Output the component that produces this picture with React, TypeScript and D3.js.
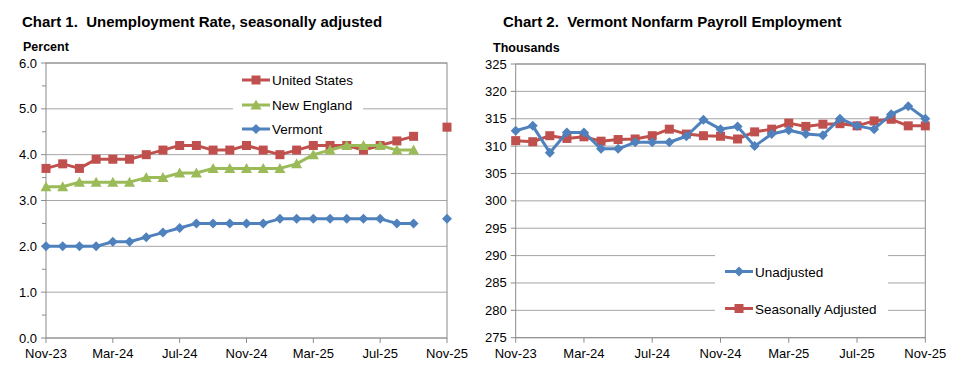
import React from "react";
import * as d3 from "d3";

const monthLabels = ["Nov-23", "Mar-24", "Jul-24", "Nov-24", "Mar-25", "Jul-25", "Nov-25"];

const usRate: (number | null)[] = [3.7, 3.8, 3.7, 3.9, 3.9, 3.9, 4.0, 4.1, 4.2, 4.2, 4.1, 4.1, 4.2, 4.1, 4.0, 4.1, 4.2, 4.2, 4.2, 4.1, 4.2, 4.3, 4.4, null, 4.6];
const neRate: (number | null)[] = [3.3, 3.3, 3.4, 3.4, 3.4, 3.4, 3.5, 3.5, 3.6, 3.6, 3.7, 3.7, 3.7, 3.7, 3.7, 3.8, 4.0, 4.1, 4.2, 4.2, 4.2, 4.1, 4.1, null, null];
const vtRate: (number | null)[] = [2.0, 2.0, 2.0, 2.0, 2.1, 2.1, 2.2, 2.3, 2.4, 2.5, 2.5, 2.5, 2.5, 2.5, 2.6, 2.6, 2.6, 2.6, 2.6, 2.6, 2.6, 2.5, 2.5, null, 2.6];

const unadjusted: number[] = [312.8, 313.7, 308.8, 312.5, 312.5, 309.5, 309.5, 310.7, 310.7, 310.7, 311.8, 314.8, 313.1, 313.6, 310.0, 312.2, 312.9, 312.2, 312.0, 315.0, 313.7, 313.1, 315.8, 317.3, 315.0];
const seasAdj: number[] = [311.0, 310.8, 311.9, 311.4, 311.7, 310.9, 311.2, 311.3, 311.9, 313.1, 312.2, 311.9, 311.8, 311.3, 312.6, 313.1, 314.2, 313.6, 314.0, 314.1, 313.7, 314.6, 314.9, 313.7, 313.7];

const rateTicks = [0, 1, 2, 3, 4, 5, 6];
const rateMinor = [0.5, 1.5, 2.5, 3.5, 4.5, 5.5];
const empTicks = d3.range(275, 326, 5);

const RED = "#C0504D";
const GREEN = "#9BBB59";
const BLUE = "#4F81BD";
const GRID = "#a6a6a6";
const AXIS = "#8c8c8c";
const FONT = "'Liberation Sans', Arial, sans-serif";

type Shape = "square" | "triangle" | "diamond";

function Marker({ shape, x, y, color }: { shape: Shape; x: number; y: number; color: string }) {
  if (shape === "square") return <rect x={x - 4.5} y={y - 4.5} width={9} height={9} fill={color} />;
  if (shape === "triangle")
    return <path d={`M${x},${y - 5.5}L${x + 5.5},${y + 4.5}L${x - 5.5},${y + 4.5}Z`} fill={color} />;
  return <path d={`M${x},${y - 5}L${x + 5},${y}L${x},${y + 5}L${x - 5},${y}Z`} fill={color} />;
}

function Series({ data, x, y, color, shape }: { data: (number | null)[]; x: d3.ScaleLinear<number, number>; y: d3.ScaleLinear<number, number>; color: string; shape: Shape }) {
  const line = d3
    .line<number | null>()
    .defined((d) => d != null)
    .x((_, i) => x(i))
    .y((d) => y(d as number));
  return (
    <g>
      <path d={line(data) || ""} fill="none" stroke={color} strokeWidth={3} strokeLinejoin="round" />
      {data.map((d, i) => (d == null ? null : <Marker key={i} shape={shape} x={x(i)} y={y(d)} color={color} />))}
    </g>
  );
}

function LegendItem({ x, y, color, shape, label }: { x: number; y: number; color: string; shape: Shape; label: string }) {
  return (
    <g>
      <line x1={x} x2={x + 28} y1={y} y2={y} stroke={color} strokeWidth={3} />
      <Marker shape={shape} x={x + 14} y={y} color={color} />
      <text x={x + 30} y={y + 5} fontSize={13.5} fontFamily={FONT} fill="#000">
        {label}
      </text>
    </g>
  );
}

const titleStyle: React.CSSProperties = { whiteSpace: "pre" };

function Chart1() {
  const x = d3.scaleLinear().domain([0, 24]).range([46, 447]);
  const y = d3.scaleLinear().domain([0, 6]).range([338, 63]);
  return (
    <g>
      <text x={22} y={27} fontSize={15} fontWeight="bold" fontFamily={FONT} style={titleStyle}>
        {"Chart 1.  Unemployment Rate, seasonally adjusted"}
      </text>
      <text x={23} y={51} fontSize={12.5} fontWeight="bold" fontFamily={FONT}>
        Percent
      </text>
      {rateTicks.map((t) => (
        <line key={t} x1={x(0)} x2={x(24)} y1={y(t)} y2={y(t)} stroke={GRID} strokeWidth={1} />
      ))}
      <rect x={x(0)} y={y(6)} width={x(24) - x(0)} height={y(0) - y(6)} fill="none" stroke={AXIS} strokeWidth={1} />
      {rateTicks.map((t) => (
        <g key={t}>
          <line x1={x(0) - 5} x2={x(0)} y1={y(t)} y2={y(t)} stroke={AXIS} />
          <text x={x(0) - 9} y={y(t) + 4.5} textAnchor="end" fontSize={13} fontFamily={FONT}>
            {t.toFixed(1)}
          </text>
        </g>
      ))}
      {rateMinor.map((t) => (
        <line key={t} x1={x(0) - 4} x2={x(0)} y1={y(t)} y2={y(t)} stroke={AXIS} />
      ))}
      {monthLabels.map((m, k) => (
        <g key={m}>
          <line x1={x(k * 4)} x2={x(k * 4)} y1={y(0)} y2={y(0) + 5} stroke={AXIS} />
          <text x={x(k * 4)} y={y(0) + 20} textAnchor="middle" fontSize={13} fontFamily={FONT}>
            {m}
          </text>
        </g>
      ))}
      <Series data={usRate} x={x} y={y} color={RED} shape="square" />
      <Series data={neRate} x={x} y={y} color={GREEN} shape="triangle" />
      <Series data={vtRate} x={x} y={y} color={BLUE} shape="diamond" />
      <rect x={233} y={67} width={130} height={74} fill="#fff" />
      <LegendItem x={242} y={80} color={RED} shape="square" label="United States" />
      <LegendItem x={242} y={105} color={GREEN} shape="triangle" label="New England" />
      <LegendItem x={242} y={129} color={BLUE} shape="diamond" label="Vermont" />
    </g>
  );
}

function Chart2() {
  const x = d3.scaleLinear().domain([0, 24]).range([515.7, 925.3]);
  const y = d3.scaleLinear().domain([275, 325]).range([337.7, 64]);
  return (
    <g>
      <text x={503} y={27} fontSize={15} fontWeight="bold" fontFamily={FONT} style={titleStyle}>
        {"Chart 2.  Vermont Nonfarm Payroll Employment"}
      </text>
      <text x={493} y={52} fontSize={12.5} fontWeight="bold" fontFamily={FONT}>
        Thousands
      </text>
      {empTicks.map((t) => (
        <line key={t} x1={x(0)} x2={x(24)} y1={y(t)} y2={y(t)} stroke={GRID} strokeWidth={1} />
      ))}
      <rect x={x(0)} y={y(325)} width={x(24) - x(0)} height={y(275) - y(325)} fill="none" stroke={AXIS} strokeWidth={1} />
      {empTicks.map((t) => (
        <g key={t}>
          <line x1={x(0) - 5} x2={x(0)} y1={y(t)} y2={y(t)} stroke={AXIS} />
          <text x={x(0) - 9} y={y(t) + 4.5} textAnchor="end" fontSize={13} fontFamily={FONT}>
            {t}
          </text>
        </g>
      ))}
      {monthLabels.map((m, k) => (
        <g key={m}>
          <line x1={x(k * 4)} x2={x(k * 4)} y1={y(275)} y2={y(275) + 5} stroke={AXIS} />
          <text x={x(k * 4)} y={y(275) + 20} textAnchor="middle" fontSize={13} fontFamily={FONT}>
            {m}
          </text>
        </g>
      ))}
      <Series data={seasAdj} x={x} y={y} color={RED} shape="square" />
      <Series data={unadjusted} x={x} y={y} color={BLUE} shape="diamond" />
      <rect x={715} y={250} width={173} height={73} fill="#fff" />
      <LegendItem x={725} y={271.5} color={BLUE} shape="diamond" label="Unadjusted" />
      <LegendItem x={725} y={308.5} color={RED} shape="square" label="Seasonally Adjusted" />
    </g>
  );
}

export default function App() {
  return (
    <svg width={956} height={380} style={{ position: "absolute", left: 0, top: 0, background: "#fff" }}>
      <rect width={956} height={380} fill="#fff" />
      <Chart1 />
      <Chart2 />
    </svg>
  );
}
